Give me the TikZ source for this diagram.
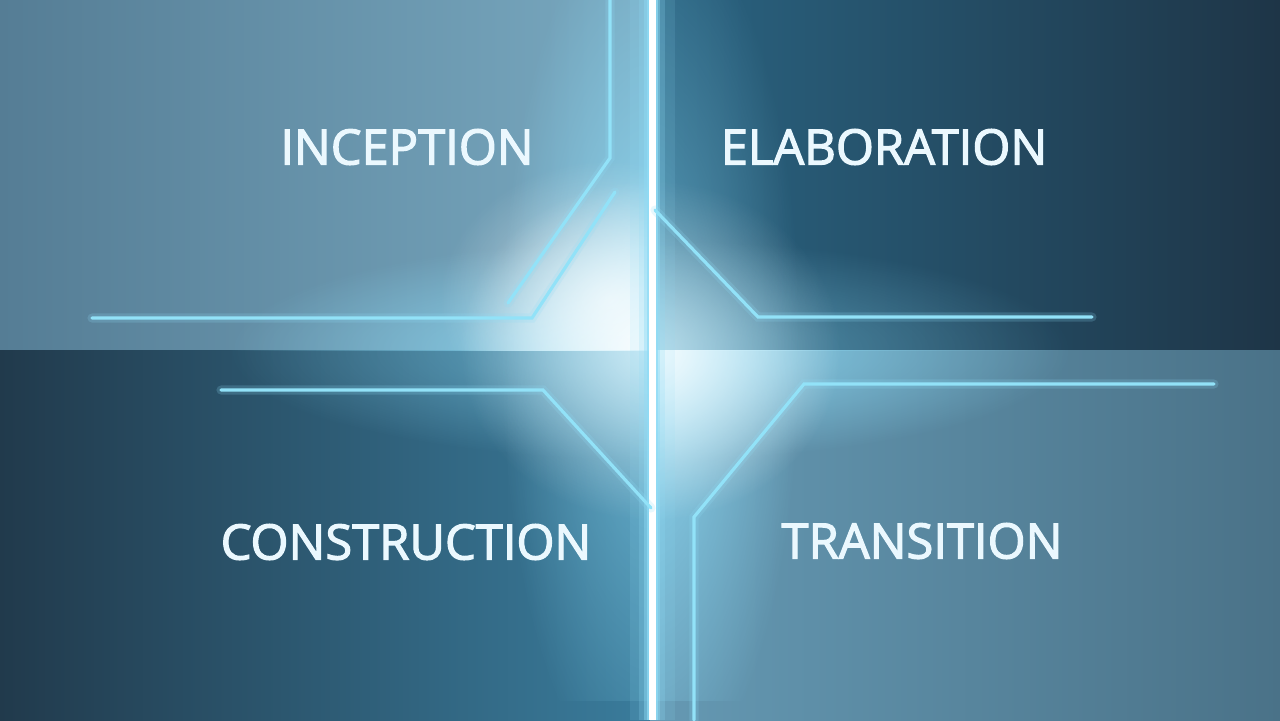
\documentclass[tikz,border=0pt]{standalone}
\usepackage{fontspec}
\setmainfont{Open Sans}
\newfontfamily\stagefont{Open Sans}[FakeBold=2.4]
\usepackage{xcolor}
\usetikzlibrary{fadings}
\tikzfading[name=glowfade, inner color=transparent!0, outer color=transparent!100]

\definecolor{tlfar}{HTML}{557D95}
\definecolor{tlnear}{HTML}{79A9C0}
\definecolor{trfar}{HTML}{1E3547}
\definecolor{trnear}{HTML}{2A6482}
\definecolor{blfar}{HTML}{213A4C}
\definecolor{blnear}{HTML}{3A7C9C}
\definecolor{brfar}{HTML}{4A7288}
\definecolor{brnear}{HTML}{6599B3}
\definecolor{tracecol}{HTML}{92E2F8}
\definecolor{beamcol}{HTML}{8FDCF6}

\begin{document}
\begin{tikzpicture}[x=0.1mm, y=-0.1mm, stage/.style={text=white!92!cyan, font=\stagefont\fontsize{13.9}{16}\selectfont}, trace/.style={draw=tracecol, line width=0.9pt, line cap=round}, halo/.style={draw=beamcol, line width=2.6pt, opacity=0.2, line cap=round}]
\useasboundingbox (0,0) rectangle (1280,720);

% four quarters
\shade[left color=tlfar, right color=tlnear] (0,0) rectangle (650,350);
\shade[left color=trnear, right color=trfar] (650,0) rectangle (1280,350);
\shade[left color=blfar, right color=blnear] (0,350) rectangle (650,720);
\shade[left color=brnear, right color=brfar] (650,350) rectangle (1280,720);

% light at the centre, quarter by quarter
\foreach \cx/\cy/\o in {0/0/0.95, 650/0/0.5, 0/350/0.6, 650/350/0.95} {
  \begin{scope}
    \clip (\cx,\cy) rectangle ++(650,350);
    \fill[beamcol, opacity=\o, path fading=glowfade] (650,350) ellipse [x radius=420, y radius=110];
    \fill[beamcol, opacity=\o, path fading=glowfade] (650,350) ellipse [x radius=150, y radius=450];
    \fill[white, opacity=\o, path fading=glowfade] (650,350) ellipse [x radius=190, y radius=170];
  \end{scope}
}
\begin{scope}
  \clip (0,0) rectangle (650,350);
  \fill[white, opacity=0.6, path fading=glowfade] (610,300) ellipse [x radius=170, y radius=140];
\end{scope}

% vertical beam
\foreach \w/\o in {4.5/0.12, 2.6/0.22, 1.6/0.4, 1.1/0.7}
  \draw[beamcol, line width=\w mm, opacity=\o] (652,0) -- (652,720);
\draw[white, line width=0.7mm] (652,0) -- (652,720);

% traces
\foreach \s in {halo, trace} {
  \draw[\s] (610,0) -- (610,158) -- (508,303);
  \draw[\s] (615,192) -- (532,318) -- (92,318);
  \draw[\s] (655,210) -- (758,317) -- (1092,317);
  \draw[\s] (221,390) -- (543,390) -- (651,508);
  \draw[\s] (1214,384) -- (804,384) -- (694,517) -- (694,720);
}

\node[stage] (inception) at (407,147) {INCEPTION};
\node[stage] (elaboration) at (884,147) {ELABORATION};
\node[stage] (construction) at (406,542) {CONSTRUCTION};
\node[stage] (transition) at (922,541) {TRANSITION};
\end{tikzpicture}
\end{document}
